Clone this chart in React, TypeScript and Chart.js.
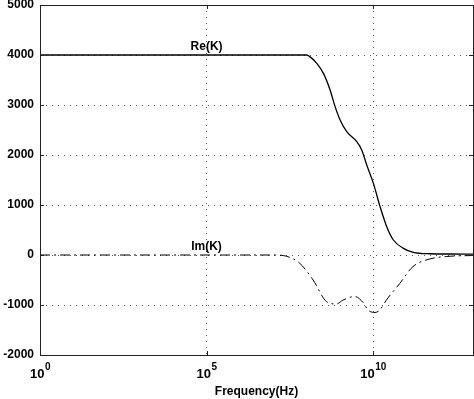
import React, { useEffect, useRef } from 'react';
import { Chart, registerables } from 'chart.js';
Chart.register(...registerables);

// log10(frequency) exponents and values
const reExp = [0, 4, 8.0, 8.1, 8.31, 8.51, 8.71, 8.86, 9.01, 9.21, 9.51, 9.66, 9.81, 10.01, 10.21, 10.41, 10.61, 10.91, 11.21, 11.71, 12.3, 13];
const reVal = [4000, 4000, 4000, 3967, 3833, 3633, 3300, 2967, 2700, 2467, 2267, 2100, 1800, 1433, 967, 567, 300, 133, 53, 25, 20, 18];

const imExp = [0, 4, 7.0, 7.4, 7.8, 8.2, 8.6, 8.9, 9.1, 9.45, 9.7, 9.85, 10.06, 10.2, 10.4, 10.8, 11.2, 11.7, 12.2, 13];
const imVal = [0, 0, 0, -25, -167, -500, -930, -980, -900, -830, -950, -1100, -1150, -1100, -900, -570, -230, -80, -30, -10];

const xTickExps = [0, 5, 10];
const yTickVals = [-2000, -1000, 0, 1000, 2000, 3000, 4000, 5000];

const curveLabels = [
  { text: 'Re(K)', exp: 5, y: 4160 },
  { text: 'Im(K)', exp: 5, y: 160 },
];

const FONT = '"Liberation Sans", Arial, Helvetica, sans-serif';

const framePlugin = {
  id: 'matlabFrame',
  afterDatasetsDraw(chart: any) {
    const { ctx, scales } = chart;
    const x = scales.x, y = scales.y;
    ctx.save();
    ctx.fillStyle = '#000';
    ctx.font = `bold 12px ${FONT}`;
    ctx.textAlign = 'center';
    ctx.textBaseline = 'middle';
    curveLabels.forEach((l) => {
      ctx.fillText(l.text, x.getPixelForValue(10 ** l.exp), y.getPixelForValue(l.y));
    });
    ctx.restore();
  },
  afterDraw(chart: any) {
    const { ctx, chartArea: a, scales } = chart;
    const x = scales.x, y = scales.y;
    ctx.save();
    ctx.strokeStyle = '#222';
    ctx.lineWidth = 1;
    ctx.setLineDash([]);
    ctx.strokeRect(Math.round(a.left) + 0.5, Math.round(a.top) + 0.5, Math.round(a.right - a.left), Math.round(a.bottom - a.top));
    ctx.beginPath();
    const tl = 4;
    yTickVals.forEach((v) => {
      const py = Math.round(y.getPixelForValue(v)) + 0.5;
      ctx.moveTo(a.left, py); ctx.lineTo(a.left + tl, py);
      ctx.moveTo(a.right, py); ctx.lineTo(a.right - tl, py);
    });
    xTickExps.forEach((e) => {
      const px = Math.round(x.getPixelForValue(10 ** e)) + 0.5;
      ctx.moveTo(px, a.bottom); ctx.lineTo(px, a.bottom - tl);
      ctx.moveTo(px, a.top); ctx.lineTo(px, a.top + tl);
    });
    ctx.stroke();
    ctx.fillStyle = '#000';
    ctx.textBaseline = 'alphabetic';
    ctx.textAlign = 'left';
    xTickExps.forEach((e) => {
      const px = x.getPixelForValue(10 ** e);
      ctx.font = `bold 13px ${FONT}`;
      const w1 = ctx.measureText('10').width;
      ctx.font = `bold 10px ${FONT}`;
      const w2 = ctx.measureText(String(e)).width;
      const start = px - (w1 + w2) / 2;
      ctx.font = `bold 13px ${FONT}`;
      ctx.fillText('10', start, 378);
      ctx.font = `bold 10px ${FONT}`;
      ctx.fillText(String(e), start + w1 + 0.5, 370);
    });
    ctx.font = `bold 12px ${FONT}`;
    ctx.textAlign = 'center';
    ctx.fillText('Frequency(Hz)', (a.left + a.right) / 2, 395);
    ctx.restore();
  },
};

export default function App() {
  const ref = useRef<HTMLCanvasElement>(null);
  useEffect(() => {
    document.body.style.margin = '0';
    const chart = new Chart(ref.current!, {
      type: 'line',
      data: {
        datasets: [
          {
            label: 'Re(K)',
            data: reExp.map((e, i) => ({ x: 10 ** e, y: reVal[i] })),
            borderColor: '#000',
            borderWidth: 1.3,
            pointRadius: 0,
            cubicInterpolationMode: 'monotone',
            fill: false,
          },
          {
            label: 'Im(K)',
            data: imExp.map((e, i) => ({ x: 10 ** e, y: imVal[i] })),
            borderColor: '#000',
            borderWidth: 1,
            borderDash: [10, 4, 2, 4],
            pointRadius: 0,
            cubicInterpolationMode: 'monotone',
            fill: false,
          },
        ],
      },
      options: {
        animation: false,
        responsive: false,
        layout: { autoPadding: false, padding: { top: 5, right: 1, left: 0, bottom: 0 } },
        plugins: { legend: { display: false }, tooltip: { enabled: false } },
        scales: {
          x: {
            type: 'logarithmic',
            min: 1,
            max: 1e13,
            afterBuildTicks: (s: any) => {
              s.ticks = xTickExps.map((e) => ({ value: 10 ** e }));
            },
            ticks: { display: false },
            grid: { color: '#555', drawTicks: false, lineWidth: 1 },
            border: { display: false, dash: [1, 5] },
            afterFit: (s: any) => {
              s.height = 44;
              s.paddingLeft = 0;
              s.paddingRight = 0;
            },
          },
          y: {
            min: -2000,
            max: 5000,
            afterBuildTicks: (s: any) => {
              s.ticks = yTickVals.map((v) => ({ value: v }));
            },
            ticks: {
              font: { family: FONT, size: 12, weight: 'bold' },
              color: '#000',
              padding: 6,
              callback: (v: any) => String(v),
            },
            grid: { color: '#555', drawTicks: false, lineWidth: 1 },
            border: { display: false, dash: [1, 5] },
            afterFit: (s: any) => {
              s.width = 40;
              s.paddingTop = 0;
              s.paddingBottom = 0;
            },
          },
        },
      } as any,
      plugins: [framePlugin],
    });
    return () => chart.destroy();
  }, []);
  return <canvas ref={ref} width={474} height={399} style={{ display: 'block' }} />;
}
